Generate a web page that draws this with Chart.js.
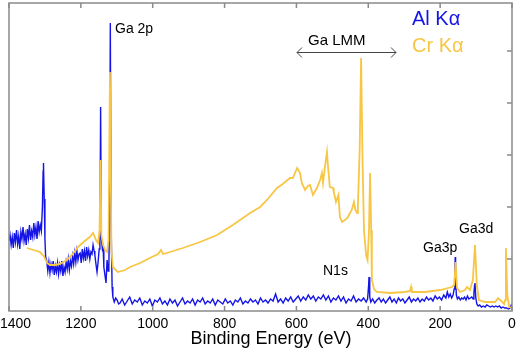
<!DOCTYPE html>
<html>
<head>
<meta charset="utf-8">
<script src="https://cdn.jsdelivr.net/npm/chart.js@4.4.1/dist/chart.umd.min.js"></script>
<style>
  html, body { margin: 0; padding: 0; background: #fff; }
  #xps { display: block; }
</style>
</head>
<body>
<canvas id="xps" width="520" height="361"></canvas>
<script>
// survey spectrum, Al K-alpha source (binding energy in eV, counts in arb. units)
const alEnergy = [
  1400,1397,1394,1391,1388,1385,1382,1379,1376,1373,1370,1367,1364,1361,1358,1355,1352,1349,1346,1343,
  1340,1337,1334,1331,1328,1325,1322,1319,1316,1313,1310,
  1307,1305,1304,1302,1300,1298,
  1295,1292,1289,1286,1283,1280,1277,1274,1271,1268,1265,1262,1259,1256,1253,1250,1247,1244,1241,1238,
  1235,1232,1229,1226,1223,1220,1217,1214,1211,1208,1205,1202,1199,1196,1193,1190,1187,1184,1181,1178,
  1175,1172,1169,1166,
  1163,1161,1158,1155,1152,1149,1147,1145,1143,1140,1138,1136,1133,1130,1127,1124,1122,1120,1118,1116,
  1113,1111,1107,1103,1099,1095,1091,
  1085,1078,1071,1064,1057,1050,1043,1036,1029,1022,1015,1008,1001,994,987,980,973,966,959,952,
  945,938,931,924,917,910,903,896,889,882,875,868,861,854,847,840,833,826,819,812,
  805,798,791,784,777,770,763,756,749,742,735,728,721,714,707,700,693,686,679,672,
  665,658,651,644,637,630,623,616,609,602,595,588,581,574,567,560,553,546,539,532,
  525,518,511,504,497,490,483,476,469,462,455,448,441,434,427,420,413,406,
  402,399,398,396,393,388,
  382,376,370,364,358,352,346,340,334,328,322,316,310,304,298,292,286,280,274,268,
  262,256,250,244,238,232,226,220,214,208,202,196,190,184,
  180,176,172,168,164,161,159,158,157,155,152,148,144,140,136,132,128,124,120,116,
  112,108,106,104,103,101,98,94,90,85,80,75,70,65,60,55,50,45,40,35,30,25,20,15,10,5,2,0
];
const alCounts = [
  70,76,66,74,63,78,69,81,67,75,62,79,72,84,70,77,66,82,73,86,
  71,80,74,88,76,84,72,90,79,86,80,
  104,140,148,112,72,54,
  50,40,49,38,47,41,50,36,45,39,48,37,46,40,50,35,44,39,49,42,
  52,41,50,45,55,47,58,49,60,51,57,58,48,62,53,60,50,64,55,61,
  52,59,57,66,
  60,56,47,39,49,62,73,204,73,62,64,44,36,28,51,40,44,111,288,91,
  24,14,9,13,11,7,8,
  12,6,10,14,7,11,9,13,6,10,8,12,5,11,9,13,7,10,6,12,
  8,11,5,9,13,7,10,8,12,6,11,9,13,7,10,8,12,6,11,9,
  7,12,8,10,6,11,9,13,7,10,8,12,9,11,7,13,9,11,8,12,
  10,17,9,12,8,13,10,14,9,12,15,10,14,11,16,12,15,10,14,12,
  16,11,15,9,13,11,15,10,14,8,12,10,15,9,12,10,13,9,
  12,26,34,14,9,12,
  8,11,13,9,12,8,11,14,9,12,8,13,10,12,8,11,14,9,12,10,
  13,9,12,10,14,11,13,10,15,12,14,11,16,13,
  19,14,17,13,16,22,40,54,38,16,12,14,11,13,12,14,11,15,12,13,
  14,12,18,26,28,14,7,5,6,4,5,4,6,5,4,5,4,5,4,5,3,4,3,3,2,3,6,5
];

// same sample, Cr K-alpha source
const crEnergy = [
  1350,1314,1303,1294,1286,1272,1258,1239,1225,1208,1202,1186,1175,1166,1158,1152,1148,1145,1143,1138,
  1133,1127,1123,1119,1115,1111,1097,1077,1063,1035,1008,985,977,971,952,916,868,821,777,729,
  701,682,654,638,618,610,598,595,590,585,576,568,562,554,543,534,529,526,520,515,
  512,507,498,496,490,483,479,473,465,458,451,446,440,436,431,429,424,420,416,412,
  406,402,398,395,392,390,384,376,340,298,284,281,279,242,200,178,167,161,157,153,
  145,131,125,117,109,103,98,92,75,47,39,30,22,19,17,13,8,0
];
const crCounts = [
  63,59,55,48,46,46,47,51,56,64,66,71,74,78,71,68,81,151,76,66,
  61,59,71,239,61,44,39,41,44,48,53,57,61,57,59,63,69,76,86,98,
  104,111,123,127,133,133,143,141,138,128,121,125,126,116,123,131,138,128,146,159,
  144,124,123,119,109,116,94,89,91,93,98,101,109,101,98,104,161,253,151,81,
  56,51,81,138,81,31,22,19,18,19,20,24,19,19,21,23,24,26,49,23,
  19,21,24,21,31,66,26,11,9,9,13,10,7,11,63,16,4,3
];

const xTicks = [1400, 1200, 1000, 800, 600, 400, 200, 0];
const yTicks = [52, 104, 156, 208, 260];

const blue = '#1414e6';
const yellow = '#f8c645';
const FONT = '"Liberation Sans", Arial, sans-serif';

const toPoints = (xs, ys) => xs.map((e, i) => ({ x: e, y: ys[i] }));

// axes box, inward ticks, labels and peak annotations
const decorations = {
  id: 'decorations',
  afterDatasetsDraw(chart) {
    const { ctx, chartArea: a, scales: { x, y } } = chart;
    ctx.save();

    ctx.strokeStyle = '#8a8a8a';
    ctx.lineWidth = 1.5;
    ctx.strokeRect(a.left, a.top, a.right - a.left, a.bottom - a.top);
    ctx.beginPath();
    xTicks.forEach(v => {
      const px = x.getPixelForValue(v);
      ctx.moveTo(px, a.bottom); ctx.lineTo(px, a.bottom - 5);
      ctx.moveTo(px, a.top); ctx.lineTo(px, a.top + 5);
    });
    yTicks.forEach(v => {
      const py = y.getPixelForValue(v);
      ctx.moveTo(a.right, py); ctx.lineTo(a.right - 5, py);
    });
    ctx.stroke();

    // tick labels (kept inside the canvas at both ends)
    ctx.fillStyle = '#000';
    ctx.font = '14px ' + FONT;
    ctx.textAlign = 'left';
    ctx.textBaseline = 'alphabetic';
    xTicks.forEach(v => {
      const s = String(v);
      const w = ctx.measureText(s).width;
      let px = x.getPixelForValue(v) - w / 2;
      px = Math.max(0, Math.min(px, chart.width - w - 1));
      ctx.fillText(s, px, a.bottom + 17);
    });

    ctx.textAlign = 'center';
    ctx.font = '18px ' + FONT;
    ctx.fillText('Binding Energy (eV)', 271, 344);

    ctx.textAlign = 'left';
    ctx.font = '14px ' + FONT;
    ctx.fillText('Ga 2p', 115, 33);
    ctx.fillText('N1s', 323, 275);
    ctx.fillText('Ga3p', 423, 252);
    ctx.fillText('Ga3d', 459, 233);

    ctx.font = '15px ' + FONT;
    ctx.fillText('Ga LMM', 308, 45);

    // double arrow spanning the LMM region
    ctx.strokeStyle = '#444';
    ctx.lineWidth = 1;
    ctx.beginPath();
    ctx.moveTo(297, 52.5); ctx.lineTo(396, 52.5);
    ctx.moveTo(302, 47.5); ctx.lineTo(297, 52.5); ctx.lineTo(302, 57.5);
    ctx.moveTo(391, 47.5); ctx.lineTo(396, 52.5); ctx.lineTo(391, 57.5);
    ctx.stroke();

    ctx.font = '20px ' + FONT;
    ctx.fillStyle = blue;
    ctx.fillText('Al K\u03b1', 412, 25);
    ctx.fillStyle = yellow;
    ctx.fillText('Cr K\u03b1', 412, 52);

    ctx.restore();
  }
};

new Chart(document.getElementById('xps'), {
  type: 'line',
  data: {
    datasets: [
      {
        label: 'Cr K\u03b1',
        data: toPoints(crEnergy, crCounts),
        borderColor: yellow,
        borderWidth: 1.8,
        pointRadius: 0,
        tension: 0,
        order: 0
      },
      {
        label: 'Al K\u03b1',
        data: toPoints(alEnergy, alCounts),
        borderColor: blue,
        borderWidth: 1.4,
        pointRadius: 0,
        tension: 0,
        order: 1
      }
    ]
  },
  options: {
    responsive: false,
    animation: false,
    layout: { padding: { left: 9, right: 8, top: 3, bottom: 50 } },
    scales: {
      x: { type: 'linear', min: 0, max: 1400, reverse: true, display: false },
      y: { min: 0, max: 308, display: false }
    },
    plugins: { legend: { display: false }, tooltip: { enabled: false } }
  },
  plugins: [decorations]
});
</script>
</body>
</html>
